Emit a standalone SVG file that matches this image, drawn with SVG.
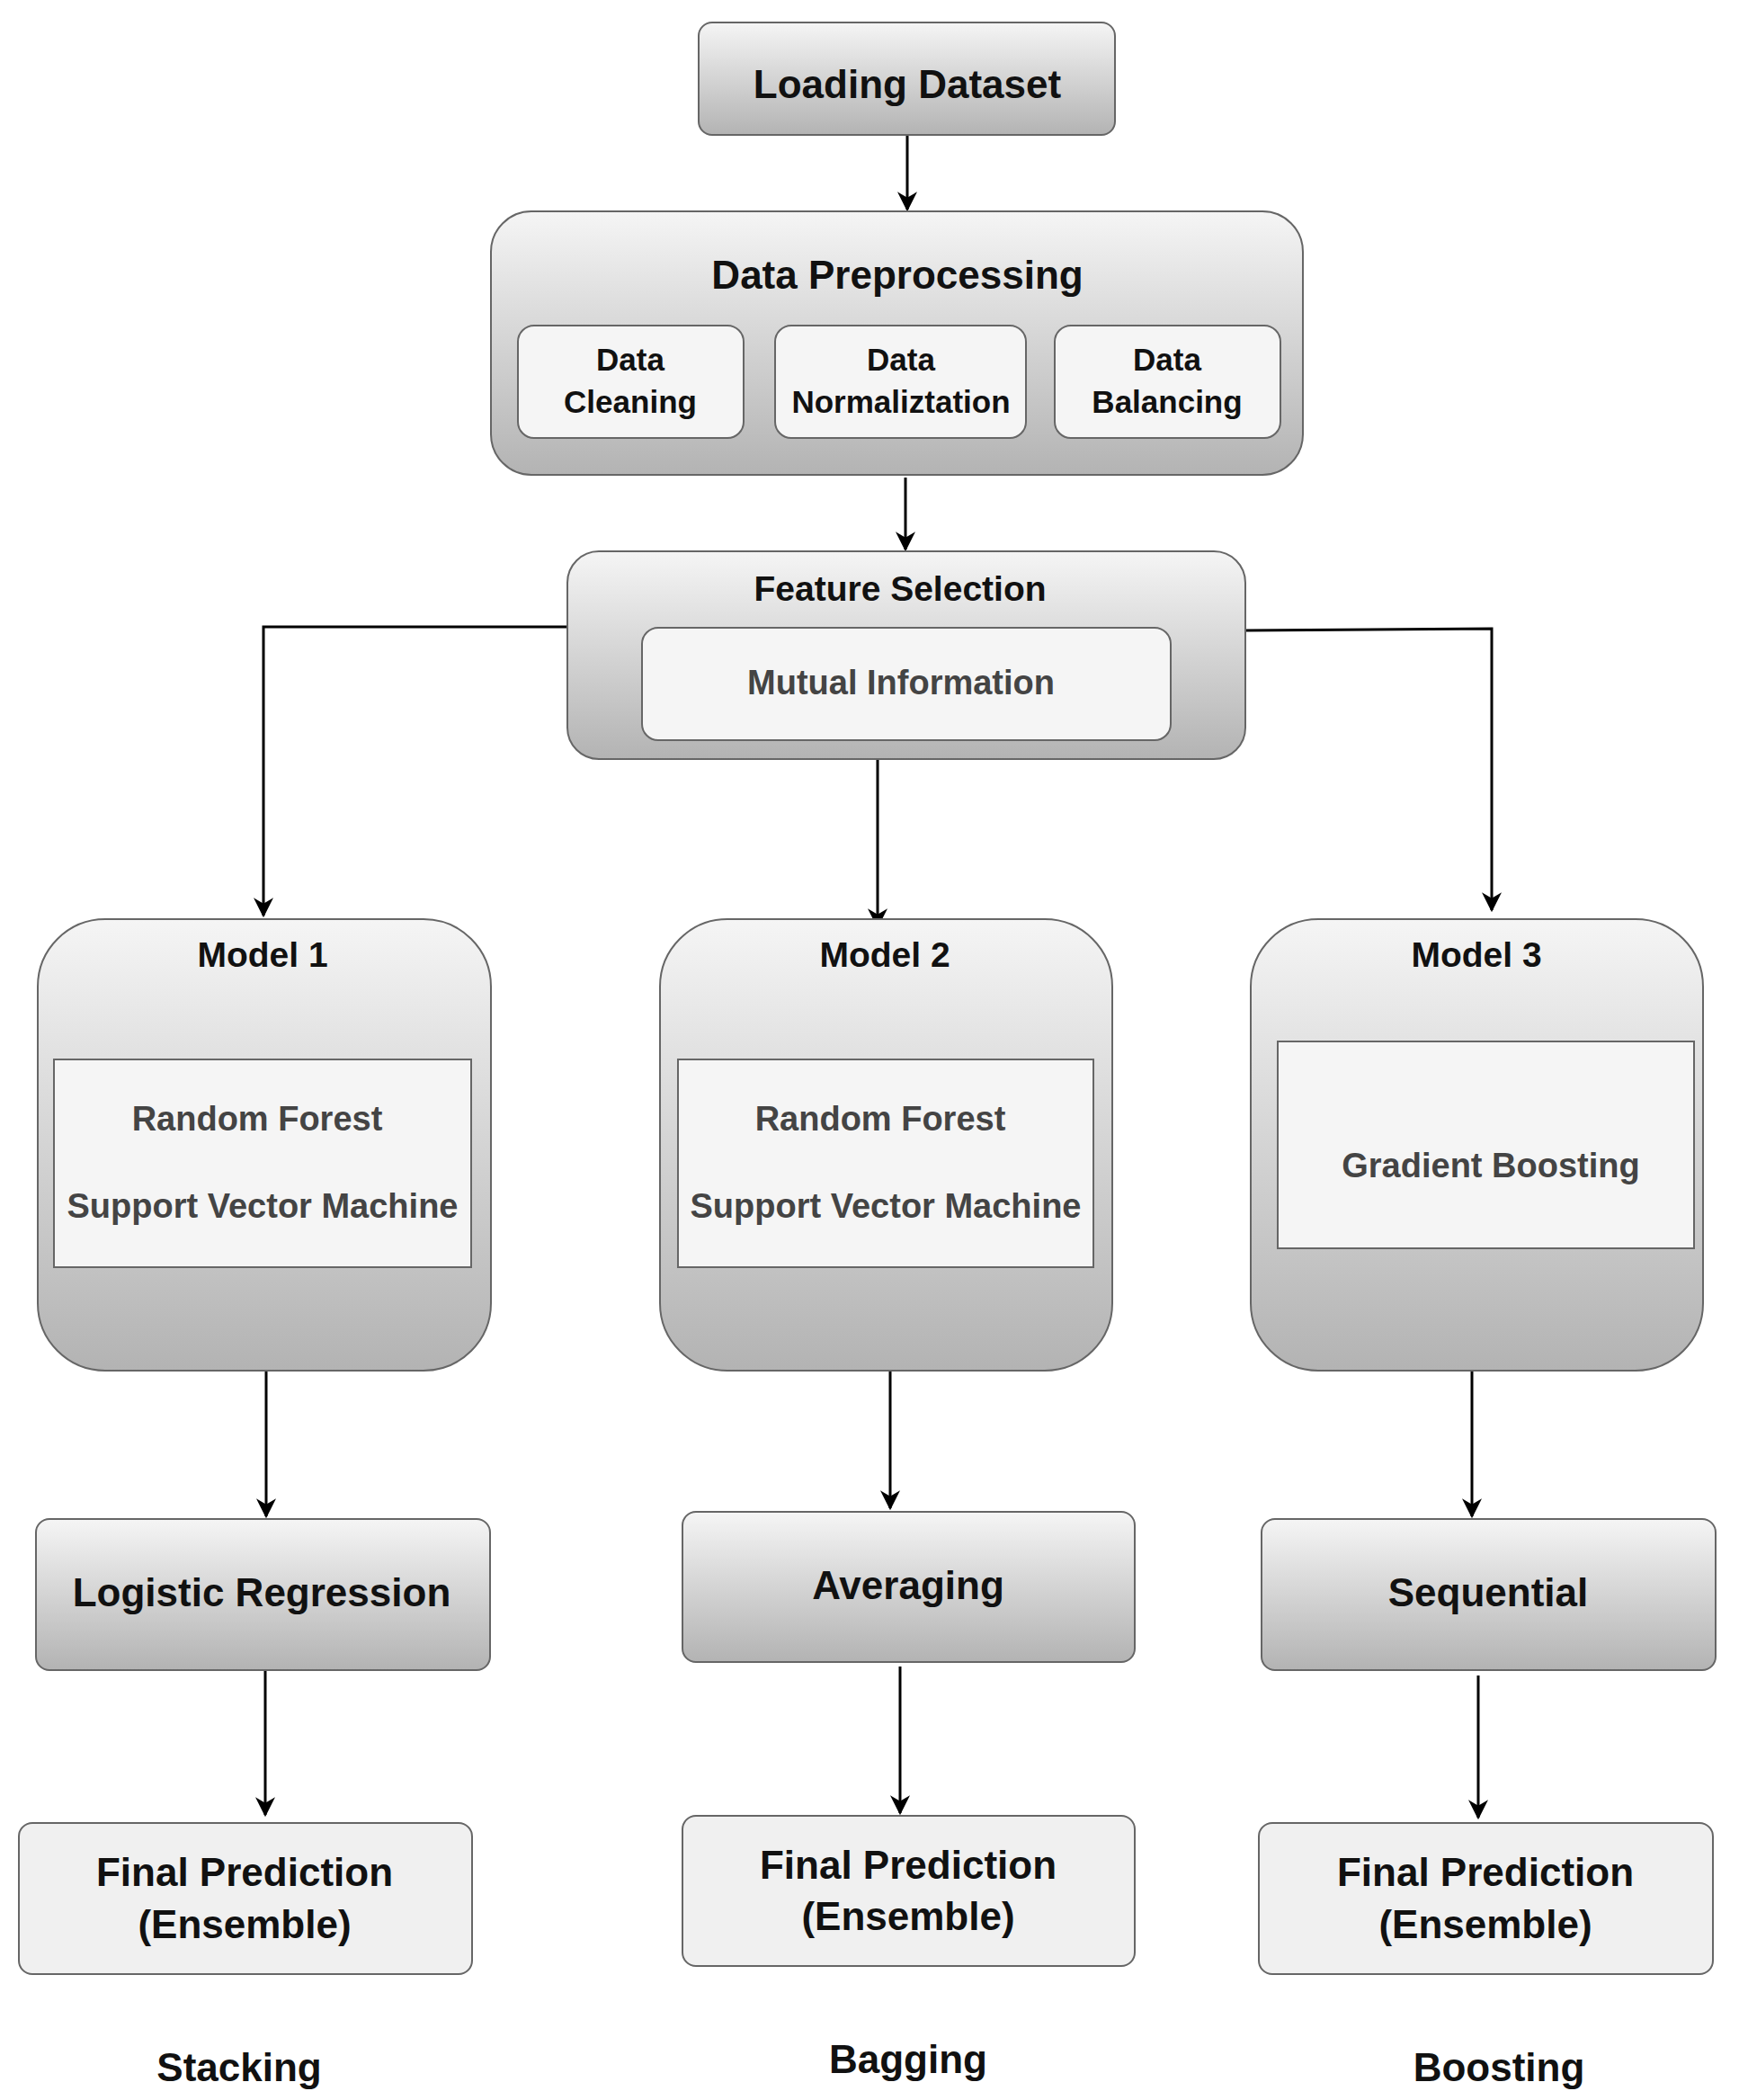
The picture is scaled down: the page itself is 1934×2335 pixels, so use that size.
<svg xmlns="http://www.w3.org/2000/svg" width="1934" height="2335" viewBox="0 0 1934 2335">
<defs>
<linearGradient id="g" x1="0" y1="0" x2="0" y2="1"><stop offset="0" stop-color="#f5f5f5"/><stop offset="1" stop-color="#b3b3b3"/></linearGradient>
<marker id="ah" viewBox="0 0 10 10" refX="9" refY="5" markerWidth="22" markerHeight="22" markerUnits="userSpaceOnUse" orient="auto"><path d="M0,0 L10,5 L0,10 L3,5 z" fill="#000"/></marker>
<style>
.n{fill:url(#g);stroke:#666;stroke-width:2}
.i{fill:#f5f5f5;stroke:#666;stroke-width:2}
.f{fill:#f0f0f0;stroke:#666;stroke-width:2}
text{font-family:"Liberation Sans",Arial,sans-serif;font-weight:bold;text-anchor:middle;fill:#111}
.t{font-size:44px}
.s{font-size:35px}
.h{font-size:39px}
.m{font-size:38px;fill:#444}
.c{fill:none;stroke:#000;stroke-width:3;marker-end:url(#ah)}
</style>
</defs>
<rect width="1934" height="2335" fill="#fff"/>
<g id="connectors">
<path class="c" d="M1009,150 V233"/>
<path class="c" d="M1007,531 V611"/>
<path class="c" d="M631,697 H293 V1018"/>
<path class="c" d="M1385,701 L1659,699 V1012"/>
<path class="c" d="M976,844 V1030"/>
<path class="c" d="M296,1524 V1686"/>
<path class="c" d="M990,1524 V1677"/>
<path class="c" d="M1637,1524 V1686"/>
<path class="c" d="M295,1857 V2018"/>
<path class="c" d="M1001,1853 V2016"/>
<path class="c" d="M1644,1863 V2021"/>
</g>
<g id="loading"><rect class="n" x="777" y="25" width="463" height="125" rx="15"/><text class="t" x="1009" y="109">Loading Dataset</text></g>
<g id="preprocessing"><rect class="n" x="546" y="235" width="903" height="293" rx="45"/><text class="t" x="998" y="321">Data Preprocessing</text>
<rect class="i" x="576" y="362" width="251" height="125" rx="18"/><text class="s" x="701" y="412">Data</text><text class="s" x="701" y="459">Cleaning</text>
<rect class="i" x="862" y="362" width="279" height="125" rx="18"/><text class="s" x="1002" y="412">Data</text><text class="s" x="1002" y="459">Normaliztation</text>
<rect class="i" x="1173" y="362" width="251" height="125" rx="18"/><text class="s" x="1298" y="412">Data</text><text class="s" x="1298" y="459">Balancing</text></g>
<g id="feature"><rect class="n" x="631" y="613" width="754" height="231" rx="35"/><text class="h" x="1001" y="668">Feature Selection</text>
<rect class="i" x="714" y="698" width="588" height="125" rx="18"/><text class="m" x="1002" y="772">Mutual Information</text></g>
<g id="model1"><rect class="n" x="42" y="1022" width="504" height="502" rx="75"/><text class="h" x="292" y="1075">Model 1</text>
<rect class="i" x="60" y="1178" width="464" height="231"/><text class="m" x="286" y="1257">Random Forest</text><text class="m" x="292" y="1354">Support Vector Machine</text></g>
<g id="model2"><rect class="n" x="734" y="1022" width="503" height="502" rx="75"/><text class="h" x="984" y="1075">Model 2</text>
<rect class="i" x="754" y="1178" width="462" height="231"/><text class="m" x="979" y="1257">Random Forest</text><text class="m" x="985" y="1354">Support Vector Machine</text></g>
<g id="model3"><rect class="n" x="1391" y="1022" width="503" height="502" rx="75"/><text class="h" x="1642" y="1075">Model 3</text>
<rect class="i" x="1421" y="1158" width="463" height="230"/><text class="m" x="1658" y="1309">Gradient Boosting</text></g>
<g id="logistic"><rect class="n" x="40" y="1689" width="505" height="168" rx="15"/><text class="t" x="291" y="1786">Logistic Regression</text></g>
<g id="averaging"><rect class="n" x="759" y="1681" width="503" height="167" rx="15"/><text class="t" x="1010" y="1778">Averaging</text></g>
<g id="sequential"><rect class="n" x="1403" y="1689" width="505" height="168" rx="15"/><text class="t" x="1655" y="1786">Sequential</text></g>
<g id="final1"><rect class="f" x="21" y="2027" width="504" height="168" rx="15"/><text class="t" x="272" y="2097">Final Prediction</text><text class="t" x="272" y="2155">(Ensemble)</text></g>
<g id="final2"><rect class="f" x="759" y="2019" width="503" height="167" rx="15"/><text class="t" x="1010" y="2089">Final Prediction</text><text class="t" x="1010" y="2146">(Ensemble)</text></g>
<g id="final3"><rect class="f" x="1400" y="2027" width="505" height="168" rx="15"/><text class="t" x="1652" y="2097">Final Prediction</text><text class="t" x="1652" y="2155">(Ensemble)</text></g>
<g id="labels"><text class="t" x="266" y="2314">Stacking</text><text class="t" x="1010" y="2305">Bagging</text><text class="t" x="1667" y="2314">Boosting</text></g>
</svg>
